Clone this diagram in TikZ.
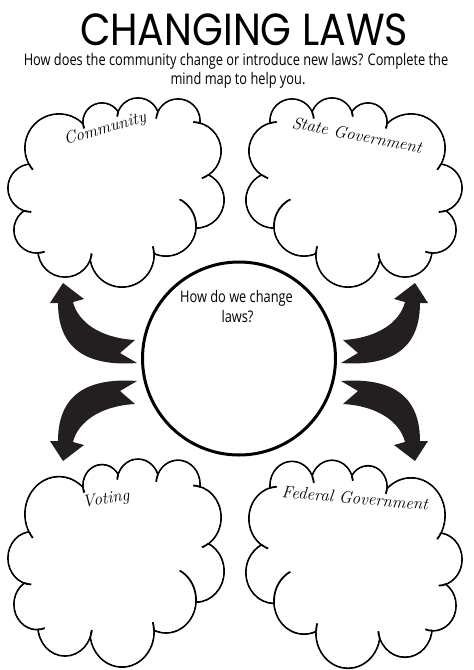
\documentclass[tikz,border=0pt]{standalone}
\usepackage{fontspec}
\newfontfamily\titlefont[FakeStretch=0.88]{Poppins}
\newfontfamily\handfont[FakeStretch=0.80]{Open Sans}
\usetikzlibrary{calc}
\definecolor{inkfill}{RGB}{35,31,32}
\tikzset{
  cloudline/.style={line width=1.8pt, black},
  arrowfill/.style={fill=inkfill},
  label/.style={inner sep=0pt, font=\fontsize{17}{20}\selectfont\itshape},
  hand/.style={inner sep=0pt, font=\fontsize{16}{19}\selectfont\handfont}
}
\def\lobelist{59/148/34, 102/122/19, 138/119/21, 178/121/22, 192/151/29, 196/200/28, 166/226/30, 122/255/32, 65/250/27, 37/230/23, 32/188/24}
% host cx/cy/r , owner cx/cy/r , junction x/y , hook length
\def\hooklist{32/188/24/59/148/34/29/164/7, 59/148/34/102/122/19/83/124/5, 102/122/19/138/119/21/118/112/5, 138/119/21/178/121/22/158/112/7, 178/121/22/192/151/29/200/123/7, 196/200/28/192/151/29/208/175/7, 196/200/28/166/226/30/196/228/33, 166/226/30/122/255/32/154/253/7, 122/255/32/65/250/27/90/260/7, 65/250/27/37/230/23/38/253/7, 37/230/23/32/188/24/24.5/211/7}
\newcommand\cloudshape{%
  \foreach \cx/\cy/\rr in \lobelist {\draw[cloudline] (\cx,\cy) circle[radius=\rr];}
  \foreach \cx/\cy/\rr in \lobelist {\fill[white] (\cx,\cy) circle[radius=\rr-0.9];}
  \fill[white] (59,148)--(102,122)--(138,119)--(178,121)--(192,151)--(196,200)--(166,226)--(122,255)--(65,250)--(37,230)--(32,188)--cycle;
  \foreach \hx/\hy/\hr/\ox/\oy/\orad/\jx/\jy/\hl in \hooklist {
    \begin{scope}
      \clip (\hx,\hy) circle[radius=\hr];
      \clip (\jx,\jy) circle[radius=\hl];
      \draw[cloudline] (\ox,\oy) circle[radius=\orad];
    \end{scope}}%
}
\newcommand\arrowshape{%
  \fill[arrowfill] (63,283) -- (84,299) -- (73,302)
    .. controls (78,322) and (100,338) .. (135,340)
    -- (120,353) -- (137,363)
    .. controls (95,366) and (58,355) .. (58,303)
    -- (50,303) -- cycle;}
\begin{document}
\begin{tikzpicture}[x=1pt,y=-1pt]
\useasboundingbox (0,0) rectangle (474,670);
\fill[white] (0,0) rectangle (474,670);

% title and instructions
\node[inner sep=0pt, font=\fontsize{45}{45}\selectfont\titlefont] (title) at (244,30) {CHANGING LAWS};
\node[hand] (sub1) at (236,61) {How does the community change or introduce new laws? Complete the};
\node[hand] (sub2) at (238,80) {mind map to help you.};

% clouds
\begin{scope}\cloudshape\end{scope}
\begin{scope}[shift={(470,0)}, xscale=-1]\cloudshape\end{scope}
\begin{scope}[shift={(0,351.3)}, yscale=1.1]\cloudshape\end{scope}
\begin{scope}[shift={(470,352.5)}, xscale=-1, yscale=1.1]\cloudshape\end{scope}

% cloud labels
\node[label, rotate=16] (community) at (105,129) {Community};
\node[label, rotate=-11] (state) at (357,135) {State Government};
\node[label, rotate=9] (voting) at (106,500) {Voting};
\node[label, rotate=-5] (federal) at (355,498) {Federal Government};

% arrows
\begin{scope}\arrowshape\end{scope}
\begin{scope}[shift={(478,0)}, xscale=-1]\arrowshape\end{scope}
\begin{scope}[shift={(0,744)}, yscale=-1]\arrowshape\end{scope}
\begin{scope}[shift={(478,744)}, xscale=-1, yscale=-1]\arrowshape\end{scope}

% central circle
\node[draw, circle, line width=3pt, minimum size=193pt, inner sep=0pt] (hub) at (239,358.5) {};
\node[hand, anchor=base] (q1) at (236.5,302) {How do we change};
\node[hand, anchor=base] (q2) at (237.5,322) {laws?};
\end{tikzpicture}
\end{document}
